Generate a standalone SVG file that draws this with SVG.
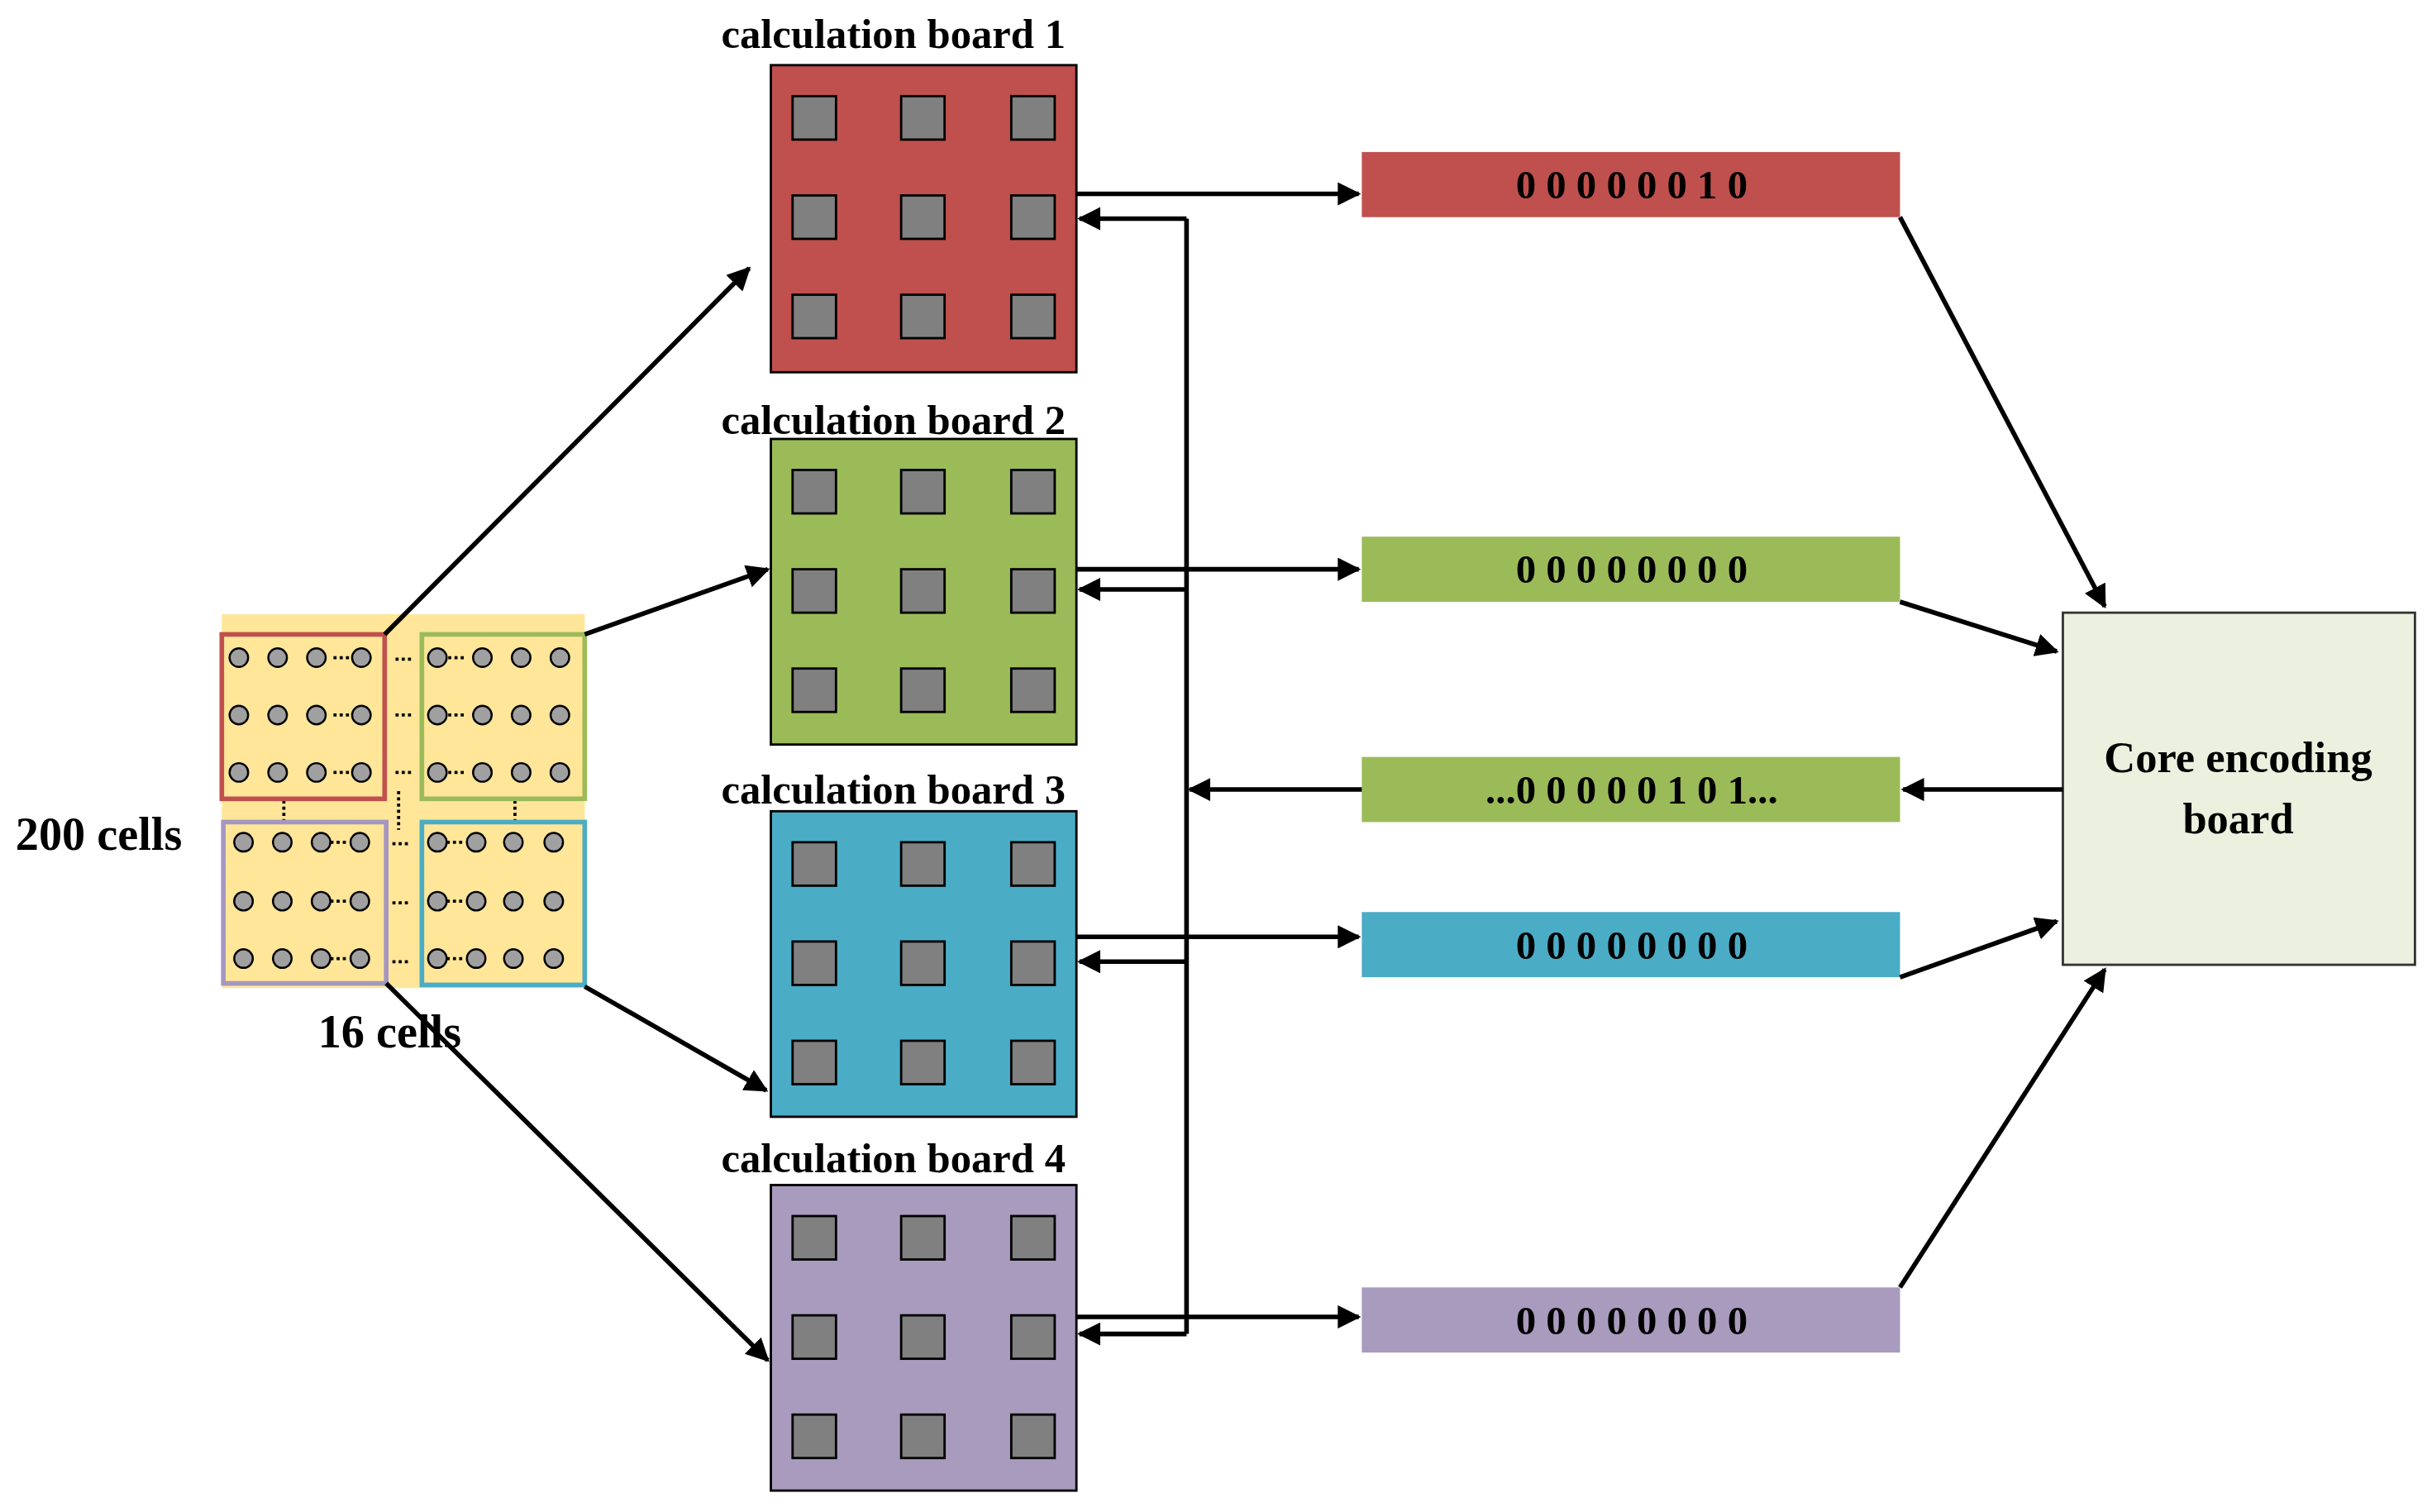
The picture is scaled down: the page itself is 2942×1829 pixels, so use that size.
<svg xmlns="http://www.w3.org/2000/svg" width="2942" height="1829" viewBox="0 0 2942 1829">
<defs>
<style>
.t{font-family:"Liberation Serif",serif;font-weight:bold;fill:#000}
.c{stroke:#000;stroke-width:3;fill:none}
.sq{fill:#808080;stroke:#000;stroke-width:1.5}
.ci{fill:#A0A0A0;stroke:#000;stroke-width:1.3}
.dt{stroke:#000;stroke-width:2;stroke-dasharray:2 2;fill:none}
</style>
<marker id="a" viewBox="0 0 10 10" refX="9" refY="5" markerWidth="5" markerHeight="5" orient="auto" markerUnits="strokeWidth"><path d="M0,0L10,5L0,10z" fill="#000"/></marker>
<g id="grid"><rect class="sq" x="14" y="20" width="28" height="28"/><rect class="sq" x="84" y="20" width="28" height="28"/><rect class="sq" x="155" y="20" width="28" height="28"/><rect class="sq" x="14" y="84" width="28" height="28"/><rect class="sq" x="84" y="84" width="28" height="28"/><rect class="sq" x="155" y="84" width="28" height="28"/><rect class="sq" x="14" y="148" width="28" height="28"/><rect class="sq" x="84" y="148" width="28" height="28"/><rect class="sq" x="155" y="148" width="28" height="28"/></g>
</defs>
<rect width="2942" height="1829" fill="#fff"/>
<g transform="scale(1.8763)">
<g id="cells">
<rect x="143" y="396" width="234" height="241" fill="#FFE699"/>
<g id="rowsA">
<circle class="ci" cx="154" cy="424" r="6"/><circle class="ci" cx="179" cy="424" r="6"/><circle class="ci" cx="204" cy="424" r="6"/><circle class="ci" cx="233" cy="424" r="6"/>
<circle class="ci" cx="154" cy="461" r="6"/><circle class="ci" cx="179" cy="461" r="6"/><circle class="ci" cx="204" cy="461" r="6"/><circle class="ci" cx="233" cy="461" r="6"/>
<circle class="ci" cx="154" cy="498" r="6"/><circle class="ci" cx="179" cy="498" r="6"/><circle class="ci" cx="204" cy="498" r="6"/><circle class="ci" cx="233" cy="498" r="6"/>
<circle class="ci" cx="282" cy="424" r="6"/><circle class="ci" cx="311" cy="424" r="6"/><circle class="ci" cx="336" cy="424" r="6"/><circle class="ci" cx="361" cy="424" r="6"/>
<circle class="ci" cx="282" cy="461" r="6"/><circle class="ci" cx="311" cy="461" r="6"/><circle class="ci" cx="336" cy="461" r="6"/><circle class="ci" cx="361" cy="461" r="6"/>
<circle class="ci" cx="282" cy="498" r="6"/><circle class="ci" cx="311" cy="498" r="6"/><circle class="ci" cx="336" cy="498" r="6"/><circle class="ci" cx="361" cy="498" r="6"/>
<circle class="ci" cx="157" cy="543" r="6"/><circle class="ci" cx="182" cy="543" r="6"/><circle class="ci" cx="207" cy="543" r="6"/><circle class="ci" cx="232" cy="543" r="6"/>
<circle class="ci" cx="157" cy="581" r="6"/><circle class="ci" cx="182" cy="581" r="6"/><circle class="ci" cx="207" cy="581" r="6"/><circle class="ci" cx="232" cy="581" r="6"/>
<circle class="ci" cx="157" cy="618" r="6"/><circle class="ci" cx="182" cy="618" r="6"/><circle class="ci" cx="207" cy="618" r="6"/><circle class="ci" cx="232" cy="618" r="6"/>
<circle class="ci" cx="282" cy="543" r="6"/><circle class="ci" cx="307" cy="543" r="6"/><circle class="ci" cx="331" cy="543" r="6"/><circle class="ci" cx="357" cy="543" r="6"/>
<circle class="ci" cx="282" cy="581" r="6"/><circle class="ci" cx="307" cy="581" r="6"/><circle class="ci" cx="331" cy="581" r="6"/><circle class="ci" cx="357" cy="581" r="6"/>
<circle class="ci" cx="282" cy="618" r="6"/><circle class="ci" cx="307" cy="618" r="6"/><circle class="ci" cx="331" cy="618" r="6"/><circle class="ci" cx="357" cy="618" r="6"/>
</g>
<path class="dt" d="M215,424h10M215,461h10M215,498h10M289,424h10M289,461h10M289,498h10M213,543h10M213,581h10M213,618h10M288,543h10M288,581h10M288,618h10M255,425h10M255,461h10M255,498h10M253,544h10M253,582h10M253,620h10M183,516v13M257,510v25M332,516v13"/>
<rect x="143" y="409" width="105" height="106" fill="none" stroke="#C0504D" stroke-width="3"/>
<rect x="272" y="409" width="105" height="106" fill="none" stroke="#9BBB59" stroke-width="3"/>
<rect x="144" y="530" width="105" height="104" fill="none" stroke="#A597C0" stroke-width="3"/>
<rect x="272" y="530" width="105" height="105" fill="none" stroke="#4BACC6" stroke-width="3"/>
<text class="t" x="10" y="548" font-size="30">200 cells</text>
<text class="t" x="205" y="675" font-size="30">16 cells</text>
</g>
<g id="board1"><text class="t" x="465" y="31" font-size="27">calculation board 1</text><rect x="497" y="42" width="197" height="198" fill="#C0504D" stroke="#000" stroke-width="1.5"/><use href="#grid" x="497" y="42"/></g>
<g id="board2"><text class="t" x="465" y="280" font-size="27">calculation board 2</text><rect x="497" y="283" width="197" height="197" fill="#9BBB59" stroke="#000" stroke-width="1.5"/><use href="#grid" x="497" y="283"/></g>
<g id="board3"><text class="t" x="465" y="518" font-size="27">calculation board 3</text><rect x="497" y="523" width="197" height="197" fill="#4BACC6" stroke="#000" stroke-width="1.5"/><use href="#grid" x="497" y="523"/></g>
<g id="board4"><text class="t" x="465" y="756" font-size="27">calculation board 4</text><rect x="497" y="764" width="197" height="197" fill="#A99BBD" stroke="#000" stroke-width="1.5"/><use href="#grid" x="497" y="764"/></g>
<g id="bars">
<rect x="878" y="98" width="347" height="42" fill="#C0504D"/><text class="t" x="1052" y="128" font-size="26" text-anchor="middle">0 0 0 0 0 0 1 0</text>
<rect x="878" y="346" width="347" height="42" fill="#9BBB59"/><text class="t" x="1052" y="376" font-size="26" text-anchor="middle">0 0 0 0 0 0 0 0</text>
<rect x="878" y="488" width="347" height="42" fill="#9BBB59"/><text class="t" x="1052" y="518" font-size="26" text-anchor="middle">...0 0 0 0 0 1 0 1...</text>
<rect x="878" y="588" width="347" height="42" fill="#4BACC6"/><text class="t" x="1052" y="618" font-size="26" text-anchor="middle">0 0 0 0 0 0 0 0</text>
<rect x="878" y="830" width="347" height="42" fill="#A99BBD"/><text class="t" x="1052" y="860" font-size="26" text-anchor="middle">0 0 0 0 0 0 0 0</text>
</g>
<g id="core"><rect x="1330" y="395" width="227" height="227" fill="#EBF1DE" stroke="#333" stroke-width="1.5"/><text class="t" x="1443" y="498" font-size="28" text-anchor="middle">Core encoding</text><text class="t" x="1443" y="537" font-size="28" text-anchor="middle">board</text></g>
<g id="connectors" class="c">
<path d="M248,409L483,173" marker-end="url(#a)"/>
<path d="M377,409L495,367" marker-end="url(#a)"/>
<path d="M377,636L494,703" marker-end="url(#a)"/>
<path d="M249,634L495,877" marker-end="url(#a)"/>
<path d="M694,125H876" marker-end="url(#a)"/>
<path d="M694,367H876" marker-end="url(#a)"/>
<path d="M694,604H876" marker-end="url(#a)"/>
<path d="M694,849H876" marker-end="url(#a)"/>
<path d="M765,860V141"/>
<path d="M765,141H696" marker-end="url(#a)"/>
<path d="M765,380H696" marker-end="url(#a)"/>
<path d="M765,620H696" marker-end="url(#a)"/>
<path d="M765,860H696" marker-end="url(#a)"/>
<path d="M878,509H767" marker-end="url(#a)"/>
<path d="M1330,509H1227" marker-end="url(#a)"/>
<path d="M1225,140L1357,391" marker-end="url(#a)"/>
<path d="M1225,388L1326,420" marker-end="url(#a)"/>
<path d="M1225,630L1326,594" marker-end="url(#a)"/>
<path d="M1225,830L1357,625" marker-end="url(#a)"/>
</g>
</g>
</svg>
